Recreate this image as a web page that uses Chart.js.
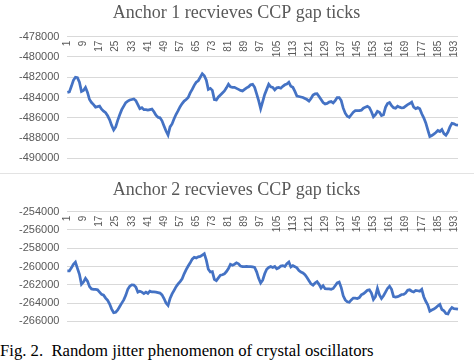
<!DOCTYPE html>
<html lang="en">
  <head>
    <meta charset="UTF-8" />
    <script src="https://cdn.jsdelivr.net/npm/chart.js@4.4.1/dist/chart.umd.min.js"></script>
    <title>Anchor CCP gap ticks</title>
    <style>
      body { margin: 0; width: 474px; height: 362px; background: #fff; position: relative; overflow: hidden; }
      .box { position: absolute; left: 0; width: 474px; }
      #box1 { top: 0; height: 174px; border-bottom: 1px solid #e3e3e3; box-sizing: border-box; }
      #box2 { top: 176px; height: 160px; }
      #caption { position: absolute; left: 0; top: 341px; font-family: "Liberation Serif", serif; font-size: 16.7px; color: #000; white-space: pre; }
    </style>
  </head>
  <body>
    <div class="box" id="box1"><canvas id="chart1" width="474" height="173"></canvas></div>
    <div class="box" id="box2"><canvas id="chart2" width="474" height="160"></canvas></div>
    <div id="caption">Fig. 2.  Random jitter phenomenon of crystal oscillators</div>
    <script>
      // sample numbers 1..195
      var pointLabels = [];
      for (var n = 1; n <= 195; n++) pointLabels.push(String(n));

      var anchor1Ticks = [
        -483500, -483450, -482900, -482300, -482000, -482050, -482500, -483400, -483300, -483000,
        -483500, -484200, -484500, -484700, -484950, -484900, -484850, -485150, -485350, -485500,
        -485800, -486200, -486750, -487200, -486900, -486250, -485700, -485200, -484850, -484500,
        -484350, -484250, -484200, -484150, -484300, -484700, -485100, -485000, -485200, -485200,
        -485250, -485200, -485150, -485400, -485750, -485950, -486000, -486300, -486800, -487300,
        -487700, -486900, -486600, -486100, -485650, -485300, -484900, -484600, -484350, -484200,
        -484000, -483550, -483200, -482800, -482500, -482350, -482000, -481650, -481850, -482300,
        -483200, -483100, -483300, -484200, -484250, -483950, -483750, -483550, -483350, -483050,
        -482700, -482950, -483000, -483000, -483100, -483200, -483300, -483350, -483200, -483050,
        -482950, -482750, -482700, -483000, -483650, -484300, -485100, -484400, -483700, -483200,
        -482700, -482950, -483000, -483250, -483050, -483000, -483080, -482900, -482750, -482680,
        -482500, -482900, -483000, -483400, -483850, -483900, -483950, -484000, -484100, -484200,
        -484350, -484100, -483750, -483650, -483620, -483900, -484200, -484500, -484630, -484580,
        -484450, -484400, -484530, -484300, -484000, -484000, -484300, -485050, -485550, -485850,
        -485950, -485700, -485450, -485300, -485300, -485300, -485250, -485050, -484950, -484860,
        -485000, -485400, -485900, -485700, -485350, -485450, -485770, -485700, -484970, -484600,
        -484500, -484800, -485000, -485050, -484860, -484950, -485030, -485000, -484850, -484700,
        -484600, -484460, -484950, -485100, -485000, -485100, -485600, -486000, -486500, -487200,
        -487850, -487750, -487600, -487450, -487250, -487350, -487150, -487550, -487720, -487400,
        -486900, -486550, -486600, -486700, -486720
      ];

      var anchor2Ticks = [
        -260480, -260480, -260150, -259750, -259520, -260200, -260850, -261950, -261700, -261300,
        -261600, -262200, -262450, -262500, -262500, -262550, -262800, -263050, -263130, -263450,
        -263700, -264100, -264650, -265050, -265000, -264750, -264370, -264000, -263650, -263150,
        -262500, -262150, -262000, -262020, -262250, -262800, -262700, -262800, -262960, -262800,
        -262950, -262700, -262780, -262780, -262800, -262850, -262900, -263100, -263500, -264000,
        -264250, -263500, -263000, -262600, -262200, -261900, -261650, -261350, -260800, -260350,
        -259950, -259600, -259200, -258990, -259060, -258950, -258900, -258750, -258600, -259300,
        -260300, -260600, -260550, -261400, -261540, -261250, -260950, -260900, -260800, -260550,
        -260230, -259750, -259850, -259750, -259600, -259700, -259950, -260020, -260020, -260000,
        -260020, -260020, -260050, -260100, -260580, -261300, -261800, -261500, -260800, -260300,
        -260100, -260000, -260100, -260000, -260250, -260150, -259950, -259900, -260000, -259700,
        -259520, -260050, -259900, -260020, -260150, -260450, -260600, -260700, -260900, -261200,
        -261550, -261900, -262050, -261800, -261650, -261950, -262350, -262100, -262430, -262450,
        -262450, -262500, -262400, -262100, -261800, -261700, -262300, -263200, -263650, -263850,
        -263910, -263650, -263450, -263450, -263500, -263400, -263100, -262980, -262800, -262600,
        -262550, -262900, -263600, -263300, -262400, -263100, -263500, -263200, -262800, -262400,
        -262150, -262500, -263300, -263350, -263300, -263200, -263060, -263050, -262900, -262600,
        -262550, -262700, -262780, -262620, -262650, -262710, -262500, -263300, -263800, -264200,
        -264880, -264750, -264650, -264500, -264300, -264150, -264700, -264830, -265150, -265190,
        -264750, -264480, -264600, -264620, -264650
      ];

      var grey = "#595959";

      function makeChart(id, title, values, yMin, yMax, titlePad, pad) {
        var ctx = document.getElementById(id);
        return new Chart(ctx, {
          type: "line",
          data: {
            labels: pointLabels,
            datasets: [{
              data: values,
              borderColor: "#4472C4",
              borderWidth: 2.75,
              pointRadius: 0,
              tension: 0,
              fill: false
            }]
          },
          options: {
            responsive: false,
            animation: false,
            layout: { padding: pad },
            plugins: {
              legend: { display: false },
              tooltip: { enabled: false },
              title: {
                display: true,
                text: title,
                color: grey,
                font: { family: "Liberation Serif", size: 18, weight: "normal" },
                padding: titlePad
              }
            },
            scales: {
              // category axis sits on the top gridline, labels hang inside the plot
              x: {
                position: { y: yMax },
                grid: { display: false, drawTicks: false },
                border: { display: false },
                ticks: {
                  autoSkip: false,
                  minRotation: 90,
                  maxRotation: 90,
                  padding: 4,
                  color: grey,
                  font: { family: "Liberation Sans", size: 10 },
                  callback: function (v, i) { return i % 8 === 0 ? pointLabels[i] : ""; }
                }
              },
              y: {
                min: yMin,
                max: yMax,
                grid: { color: "#d9d9d9", drawTicks: false },
                border: { display: false },
                ticks: {
                  stepSize: 2000,
                  padding: 8,
                  color: grey,
                  font: { family: "Liberation Sans", size: 11 },
                  callback: function (v) { return String(v); }
                }
              }
            }
          }
        });
      }

      makeChart("chart1", "Anchor 1 recvieves CCP gap ticks", anchor1Ticks, -490000, -478000,
        { top: 2, bottom: 13 }, { left: 11, right: 12, top: 0, bottom: 13 });
      makeChart("chart2", "Anchor 2 recvieves CCP gap ticks", anchor2Ticks, -266000, -254000,
        { top: 3, bottom: 11 }, { left: 11, right: 12, top: 0, bottom: 10 });
    </script>
  </body>
</html>
